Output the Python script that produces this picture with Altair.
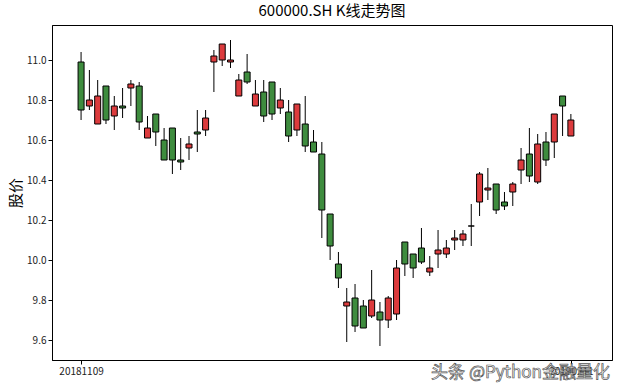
import altair as alt
import pandas as pd

dates = [
    "20181109", "20181112", "20181113", "20181114", "20181115", "20181116",
    "20181119", "20181120", "20181121", "20181122", "20181123", "20181126",
    "20181127", "20181128", "20181129", "20181130", "20181203", "20181204",
    "20181205", "20181206", "20181207", "20181210", "20181211", "20181212",
    "20181213", "20181214", "20181217", "20181218", "20181219", "20181220",
    "20181221", "20181224", "20181225", "20181226", "20181227", "20181228",
    "20190102", "20190103", "20190104", "20190107", "20190108", "20190109",
    "20190110", "20190111", "20190114", "20190115", "20190116", "20190117",
    "20190118", "20190121", "20190122", "20190123", "20190124", "20190125",
    "20190128", "20190129", "20190130", "20190131", "20190201", "20190211",
]
opens = [10.99, 10.77, 10.68, 10.87, 10.72, 10.77, 10.86, 10.87, 10.61, 10.73,
         10.60, 10.66, 10.50, 10.56, 10.64, 10.65, 10.99, 11.00, 10.99, 10.82,
         10.94, 10.77, 10.84, 10.89, 10.76, 10.74, 10.65, 10.68, 10.59, 10.53,
         10.23, 9.98, 9.77, 9.81, 9.77, 9.72, 9.74, 9.70, 9.73, 10.09,
         10.03, 10.06, 9.94, 10.03, 10.03, 10.10, 10.10, 10.17, 10.29, 10.35,
         10.38, 10.29, 10.34, 10.45, 10.53, 10.39, 10.59, 10.59, 10.82, 10.62]
closes = [10.75, 10.80, 10.82, 10.70, 10.77, 10.76, 10.88, 10.69, 10.66, 10.64,
          10.50, 10.50, 10.49, 10.58, 10.63, 10.71, 11.02, 11.08, 11.00, 10.90,
          10.89, 10.83, 10.72, 10.73, 10.80, 10.62, 10.78, 10.57, 10.54, 10.25,
          10.07, 9.91, 9.79, 9.67, 9.66, 9.80, 9.70, 9.81, 9.96, 9.98,
          9.96, 9.99, 9.96, 10.05, 10.06, 10.11, 10.13, 10.17, 10.43, 10.36,
          10.25, 10.27, 10.38, 10.50, 10.42, 10.58, 10.50, 10.73, 10.77, 10.70]
highs = [11.04, 10.95, 10.90, 10.87, 10.82, 10.86, 10.90, 10.89, 10.72, 10.73,
         10.66, 10.66, 10.61, 10.62, 10.75, 10.75, 11.05, 11.08, 11.10, 10.93,
         11.03, 10.90, 10.90, 10.89, 10.86, 10.80, 10.78, 10.82, 10.65, 10.59,
         10.23, 10.04, 9.86, 9.88, 9.80, 9.95, 9.79, 9.82, 10.00, 10.09,
         10.03, 10.16, 10.02, 10.15, 10.10, 10.15, 10.15, 10.28, 10.44, 10.46,
         10.38, 10.34, 10.39, 10.56, 10.66, 10.63, 10.64, 10.73, 10.82, 10.73]
lows = [10.70, 10.75, 10.68, 10.68, 10.65, 10.71, 10.77, 10.65, 10.61, 10.57,
        10.50, 10.43, 10.45, 10.50, 10.54, 10.62, 10.84, 10.97, 10.96, 10.82,
        10.88, 10.77, 10.69, 10.70, 10.73, 10.59, 10.62, 10.54, 10.54, 10.11,
        10.00, 9.86, 9.59, 9.64, 9.66, 9.71, 9.57, 9.66, 9.70, 9.92,
        9.91, 9.98, 9.92, 9.96, 10.01, 10.05, 10.07, 10.07, 10.22, 10.30,
        10.23, 10.25, 10.27, 10.38, 10.39, 10.38, 10.47, 10.51, 10.62, 10.62]

df = pd.DataFrame({
    "idx": list(range(len(dates))),
    "date": dates,
    "open": opens,
    "close": closes,
    "high": highs,
    "low": lows,
})

RED = "#dc3b3d"
GREEN = "#3e8c3e"
FONT = "Noto Sans CJK SC"

label_expr = f"datum.value == 0 ? '{dates[0]}' : '{dates[-1]}'"

x_enc = alt.X(
    "idx:Q",
    scale=alt.Scale(domain=[-2.9, 63.35], nice=False, zero=False),
    axis=alt.Axis(values=[0, len(dates) - 1], labelExpr=label_expr, title=None,
                  grid=False, tickColor="black", domainColor="black",
                  labelColor="#222", labelFont=FONT, labelFontSize=10,
                  tickSize=4, labelPadding=2),
)

base = alt.Chart(df).transform_calculate(
    dir="datum.close >= datum.open ? 'up' : 'down'"
)

wicks = base.mark_rule(color="black", strokeWidth=1).encode(
    x=x_enc,
    y=alt.Y(
        "low:Q",
        scale=alt.Scale(domain=[9.5, 11.175], nice=False, zero=False),
        axis=alt.Axis(values=[9.6, 9.8, 10.0, 10.2, 10.4, 10.6, 10.8, 11.0],
                      format=".1f", title="股价", grid=False,
                      tickColor="black", domainColor="black",
                      labelColor="#222", labelFont=FONT, labelFontSize=10,
                      tickSize=4, labelPadding=2,
                      titleFont=FONT, titleFontSize=15, titleFontWeight="normal",
                      titleColor="black", titleX=-37, titleY=167.5,
                      titleAlign="center", titleBaseline="middle", titleAngle=270),
    ),
    y2="high:Q",
)

bodies = base.mark_bar(size=6, stroke="black", strokeWidth=1).encode(
    x="idx:Q",
    y="open:Q",
    y2="close:Q",
    color=alt.Color("dir:N", scale=alt.Scale(domain=["up", "down"], range=[RED, GREEN]),
                    legend=None),
)

watermark = alt.Chart(pd.DataFrame({"t": ["头条 @Python金融量化"]})).mark_text(
    align="right", baseline="middle", font=FONT, fontSize=17,
    fill="white", stroke="#444", strokeWidth=0.7, opacity=0.9,
).encode(
    text="t:N",
    x=alt.value(558),
    y=alt.value(348),
)

chart = alt.layer(wicks, bodies, watermark).properties(
    width=560,
    height=335,
    title=alt.TitleParams("600000.SH K线走势图", font=FONT, fontSize=15,
                          fontWeight="normal", color="black", offset=6),
    autosize=alt.AutoSizeParams(type="none"),
    padding={"left": 52, "top": 25, "right": 8, "bottom": 25},
    background="white",
).configure_view(stroke="black", strokeWidth=1)

chart.save("out.html", embed_options={"renderer": "svg", "actions": False})
